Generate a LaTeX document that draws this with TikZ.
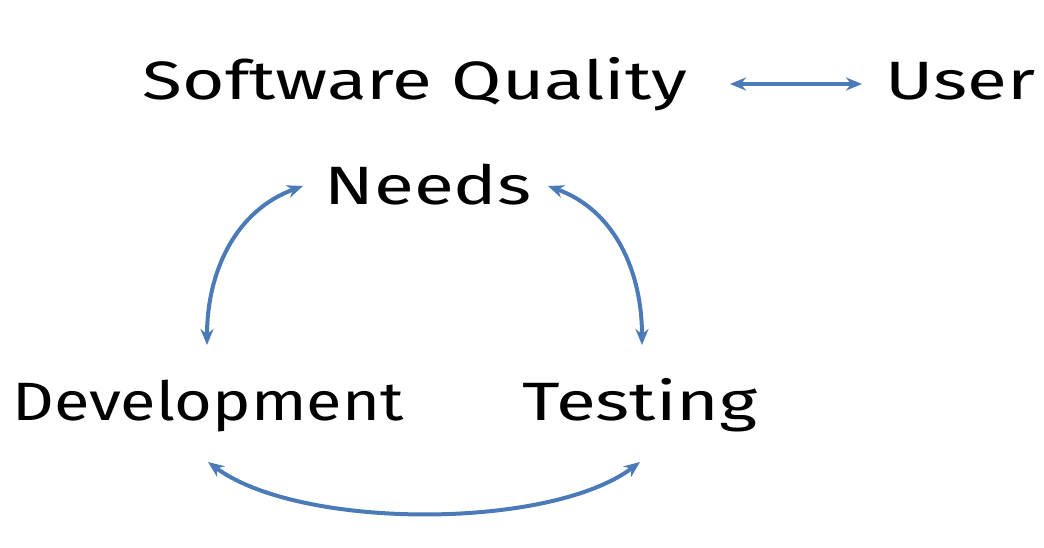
\documentclass[tikz,border=0pt]{standalone}
\usepackage{fontspec}
\setmainfont{Fira Sans}
\usetikzlibrary{arrows.meta}
\begin{document}
\begin{tikzpicture}[x=1pt,y=-1pt,
  lbl/.style={font=\fontsize{54}{60}\selectfont\fontseries{l}, inner sep=0pt, xscale=1.35},
  conn/.style={color={rgb,255:red,74;green,122;blue,183}, line width=4pt, {Stealth[length=16pt,width=13pt]}-{Stealth[length=16pt,width=13pt]}}]
\clip (0,0) rectangle (1044,548);
\fill[white] (0,0) rectangle (1044,548);
\node[lbl,anchor=base] (sq) at (415,100) {Software Quality};
\node[lbl,anchor=base west] (us) at (885,100) {User};
\node[lbl,anchor=base] (nd) at (428,205) {Needs};
\node[lbl,anchor=base,xscale=0.89] (dv) at (208,420) {Development};
\node[lbl,anchor=base] (ts) at (640,420) {Testing};
\coordinate (a1) at (730,84); \coordinate (a2) at (862,84);
\coordinate (n1) at (303,186); \coordinate (d1) at (207,345);
\coordinate (n2) at (548,186); \coordinate (t1) at (642,345);
\coordinate (d2) at (208,462); \coordinate (t2) at (640,462);
\draw[conn] (a1) -- (a2);
\draw[conn] (n1) to[out=200,in=90] (d1);
\draw[conn] (n2) to[out=-20,in=90] (t1);
\draw[conn] (d2) .. controls (300,530) and (550,530) .. (t2);
\end{tikzpicture}
\end{document}
